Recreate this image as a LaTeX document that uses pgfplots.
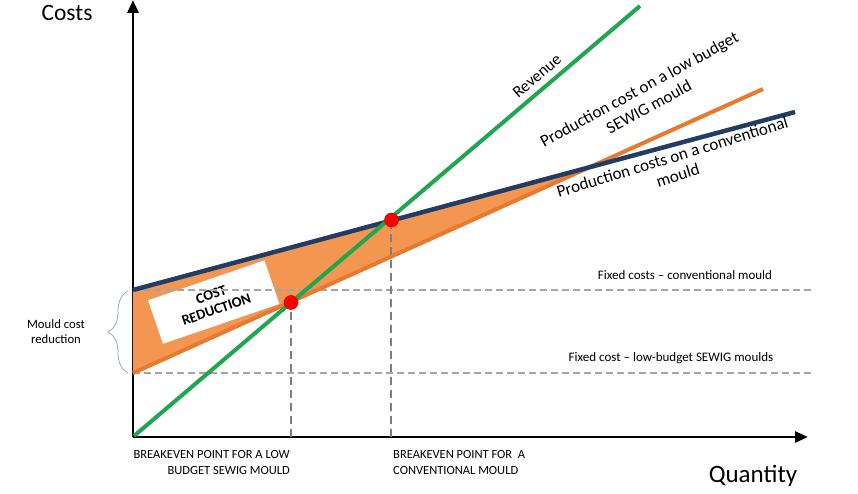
\documentclass[border=0pt]{standalone}
\usepackage{pgfplots}
\pgfplotsset{compat=1.18}
\usepackage{fontspec}
\setmainfont{Carlito}
\usetikzlibrary{arrows.meta,decorations.pathreplacing}

\definecolor{revgreen}{RGB}{32,166,78}
\definecolor{convblue}{RGB}{35,60,100}
\definecolor{lowline}{RGB}{232,122,48}
\definecolor{lowfill}{RGB}{243,150,82}
\definecolor{dashgray}{RGB}{165,165,165}
\definecolor{vdashgray}{RGB}{125,125,125}
\definecolor{bracegray}{RGB}{150,170,190}

\begin{document}
\begin{tikzpicture}
\begin{axis}[
    scale only axis,
    width=675pt, height=437pt,
    xmin=0, xmax=675, ymin=0, ymax=437,
    axis lines=left,
    axis line style={line width=2.8pt, black, -{Triangle[length=13pt,width=11pt]}},
    xtick=\empty, ytick=\empty,
    clip=false,
    /pgf/number format/assume math mode=true,
]
% cost reduction area between the two cost lines
\addplot[draw=none, fill=lowfill] coordinates {(0,147) (458,270.4) (0,64)} -- cycle;
\node[fill=white, rotate=18.9, minimum width=123pt, minimum height=46pt, inner sep=0pt,
      align=center, font=\bfseries\fontsize{14.5}{16}\selectfont]
      at (axis cs:80.7,134.9) {COST\\REDUCTION};

% fixed costs
\addplot[dashgray, line width=1.2pt, dash pattern=on 7pt off 4pt] coordinates {(0,147) (679,147)};
\addplot[dashgray, line width=1.2pt, dash pattern=on 7pt off 4pt] coordinates {(0,64) (679,64)};

% cost and revenue lines
\addplot[lowline, line width=4pt] coordinates {(0,64) (630,348)};
\addplot[convblue, line width=4.5pt] coordinates {(0,147) (662,325)};
\addplot[revgreen, line width=4pt] coordinates {(1,1) (507,431)};

% breakeven points
\addplot[vdashgray, line width=1.8pt, dash pattern=on 8pt off 5pt] coordinates {(158,0) (158,134.5)};
\addplot[vdashgray, line width=1.8pt, dash pattern=on 8pt off 5pt] coordinates {(258,0) (258,217)};
\addplot[only marks, mark=*, mark size=7pt, color=red,
         mark options={draw=red!85!black, line width=0.5pt}] coordinates {(158,134.5) (258.5,217)};

% brace for mould cost reduction
\draw[bracegray, line width=0.8pt, decorate, decoration={brace, amplitude=20pt}]
    (axis cs:-5,64) -- (axis cs:-5,146);

% labels
\node[font=\fontsize{23.5}{27}\selectfont] at (axis cs:-66,424) {Costs};
\node[font=\fontsize{25}{29}\selectfont] at (axis cs:620,-39) {Quantity};
\node[align=center, font=\fontsize{12.7}{15}\selectfont] at (axis cs:-77,105) {Mould cost\\reduction};
\node[font=\fontsize{13}{15}\selectfont] at (axis cs:552,162) {Fixed costs – conventional mould};
\node[font=\fontsize{13}{15}\selectfont] at (axis cs:538,79) {Fixed cost – low-budget SEWIG moulds};
\node[anchor=north east, align=right, inner sep=0pt, font=\fontsize{12.5}{16}\selectfont]
    at (axis cs:157,-13) {BREAKEVEN POINT FOR A LOW\\BUDGET SEWIG MOULD};
\node[anchor=north west, align=left, inner sep=0pt, font=\fontsize{12.5}{16}\selectfont]
    at (axis cs:260,-13) {BREAKEVEN POINT FOR\ \ A\\CONVENTIONAL MOULD};
\node[rotate=40.4, font=\fontsize{16.5}{19}\selectfont] at (axis cs:404,361) {Revenue};
\node[rotate=28.6, align=center, font=\fontsize{17}{20}\selectfont]
    at (axis cs:511,339) {Production cost on a low budget\\SEWIG mould};
\node[rotate=17, align=center, font=\fontsize{17}{19}\selectfont]
    at (axis cs:542,271) {Production costs on a conventional\\mould};

\coordinate (bl) at (axis cs:-133,-57);
\coordinate (tr) at (axis cs:725,437);
\end{axis}
\pgfresetboundingbox
\path[use as bounding box] (bl) rectangle (tr);
\end{tikzpicture}
\end{document}
